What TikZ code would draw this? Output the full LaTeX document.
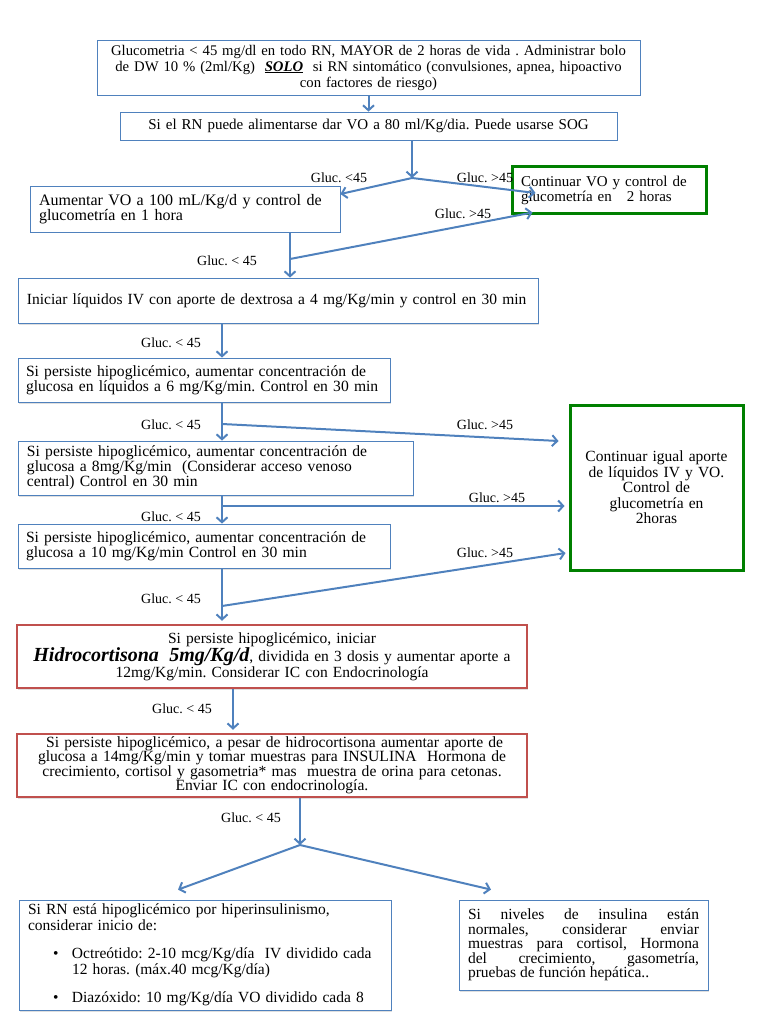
\documentclass[tikz,border=0pt]{standalone}
\usepackage{fontspec}
\setmainfont{Liberation Serif}
\usepackage{tikz}
\usetikzlibrary{arrows.meta,shadows}
\definecolor{azul}{RGB}{79,129,189}
\definecolor{verde}{RGB}{0,128,0}
\definecolor{rojo}{RGB}{192,80,77}
\frenchspacing
\tikzset{
  caja/.style={draw=azul, line width=0.8pt, fill=white, inner xsep=9pt, inner ysep=0pt,
    font=\fontsize{15.5}{15.5}\selectfont,
    drop shadow={shadow xshift=1pt, shadow yshift=-1.5pt, opacity=0.25}},
  cajaverde/.style={caja, draw=verde, line width=3pt},
  cajaroja/.style={caja, draw=rojo, line width=2.5pt},
  flecha/.style={azul, line width=2pt, -{Straight Barb[length=5pt,width=11pt]}},
  gluc/.style={font=\fontsize{14}{16}\selectfont, inner sep=0pt},
}
\newcommand{\gluc}[3]{\node [gluc] (#1) at #2 {Gluc. #3}}

\begin{document}
\begin{tikzpicture}[x=1pt,y=-1pt]
    \useasboundingbox (0,0) rectangle (768,1024);

    % arriba
    \node [caja, font=\fontsize{14.7}{16}\selectfont, text width=525pt, minimum height=55pt, align=center] (inicio) at (368.5,67.5)
      {Glucometria < 45 mg/dl en todo RN, MAYOR de 2 horas de vida . Administrar bolo\\
       de DW 10 \% (2ml/Kg)~ \underline{\textbf{\textit{SOLO}}}~ si RN sintomático (convulsiones, apnea, hipoactivo\\
       con factores de riesgo)};
    \node [caja, font=\fontsize{15}{16}\selectfont, text width=479pt, minimum height=28pt, align=center] (vo80) at (368.5,126)
      {Si el RN puede alimentarse dar VO a 80 ml/Kg/dia. Puede usarse SOG};
    \node [cajaverde, font=\fontsize{15}{14.5}\selectfont, text width=176pt, minimum height=47pt, align=left] (cvo) at (609,190.5)
      {Continuar VO y control de\\ glucometría en~~ 2 horas};
    \node [caja, font=\fontsize{16}{15}\selectfont, text width=292pt, minimum height=46pt, align=left] (avo) at (185,209)
      {Aumentar VO a 100 mL/Kg/d y control de\\ glucometría en 1 hora};

    % liquidos IV
    \node [caja, text width=502pt, minimum height=45pt, align=left] (liq4) at (278,300.5)
      {Iniciar líquidos IV con aporte de dextrosa a 4 mg/Kg/min y control en 30 min};
    \node [caja, font=\fontsize{15.6}{15.2}\selectfont, text width=356pt, inner xsep=8pt, minimum height=44pt, align=left] (liq6) at (204,380)
      {Si persiste hipoglicémico, aumentar concentración de\\ glucosa en líquidos a 6 mg/Kg/min. Control en 30 min};
    \node [caja, font=\fontsize{15.6}{15.2}\selectfont, text width=377pt, minimum height=54pt, align=left] (liq8) at (215.5,468)
      {Si persiste hipoglicémico, aumentar concentración de\\ glucosa a 8mg/Kg/min~ (Considerar acceso venoso\\ central) Control en 30 min};
    \node [caja, font=\fontsize{15.6}{15.2}\selectfont, text width=356pt, inner xsep=8pt, minimum height=44pt, align=left] (liq10) at (204,546)
      {Si persiste hipoglicémico, aumentar concentración de\\ glucosa a 10 mg/Kg/min Control en 30 min};
    \node [cajaverde, text width=155pt, minimum height=165pt, align=center] (cig) at (656.5,487.5)
      {Continuar igual aporte\\ de líquidos IV y VO.\\ Control de\\ glucometría en\\ 2horas};

    % hidrocortisona
    \node [cajaroja, text width=492pt, minimum height=63pt, align=center] (hidro) at (272,656.5)
      {Si persiste hipoglicémico, iniciar\\
       {\fontsize{20}{19}\selectfont\bfseries\itshape Hidrocortisona~~5mg/Kg/d}, dividida en 3 dosis y aumentar aporte a\\
       12mg/Kg/min. Considerar IC con Endocrinología};
    \node [cajaroja, font=\fontsize{15.6}{14.5}\selectfont, text width=492pt, minimum height=63pt, align=center] (ins) at (272,765.5)
      {~Si persiste hipoglicémico, a pesar de hidrocortisona aumentar aporte de\\
       glucosa a 14mg/Kg/min y tomar muestras para INSULINA~ Hormona de\\
       crecimiento, cortisol y gasometria* mas~ muestra de orina para cetonas.\\
       Enviar IC con endocrinología.};

    % abajo
    \node [caja, text width=354pt, minimum height=110pt, align=left] (hiper) at (205,955)
      {Si RN está hipoglicémico por hiperinsulinismo,\\ considerar inicio de:\\[13pt]
       \hspace*{25pt}\makebox[19pt][l]{\textbullet}Octreótido: 2-10 mcg/Kg/día~ IV dividido cada\\
       \hspace*{44pt}12 horas. (máx.40 mcg/Kg/día)\\[13pt]
       \hspace*{25pt}\makebox[19pt][l]{\textbullet}Diazóxido: 10 mg/Kg/día VO dividido cada 8};
    \node [caja, font=\fontsize{15.5}{14.6}\selectfont, text width=231pt, minimum height=90pt, align=justify] (normal) at (583.5,945)
      {Si niveles de insulina están\linebreak normales, considerar enviar\linebreak
       muestras para cortisol, Hormona\linebreak del crecimiento, gasometría,\linebreak
       pruebas de función hepática..};

    % bifurcaciones
    \coordinate (b1) at (412,178);
    \coordinate (b2) at (290,259);
    \coordinate (b3) at (222,424);
    \coordinate (b4) at (222,506);
    \coordinate (b5) at (222,606);
    \coordinate (b6) at (300,845);

    \draw [flecha] (inicio) -- (vo80);
    \draw [flecha] (vo80.south -| b1) -- (b1);
    \draw [flecha] (b1) -- ([yshift=15pt]avo.east);
    \draw [flecha] (b1) -- ([xshift=25pt,yshift=-2.5pt]cvo.west);
    \draw [flecha] (avo.south -| b2) -- (liq4.north -| b2);
    \draw [flecha] (b2) -- ([xshift=22pt,yshift=-22pt]cvo.west);

    \draw [flecha] (liq4.south -| b3) -- (liq6.north -| b3);
    \draw [flecha] (liq6.south -| b3) -- (liq8.north -| b3);
    \draw [flecha] (b3) -- ([xshift=-10pt,yshift=46.5pt]cig.west);
    \draw [flecha] (liq8.south -| b4) -- (liq10.north -| b4);
    \draw [flecha] (b4) -- ([xshift=-4pt]cig.west |- b4);
    \draw [flecha] (liq10.south -| b5) -- ([yshift=3pt]hidro.north -| b5);
    \draw [flecha] (b5) -- ([xshift=-3pt,yshift=-65.5pt]cig.west);

    \draw [flecha] ([xshift=-39pt]hidro.south) -- ([xshift=-39pt,yshift=3pt]ins.north);
    \draw [flecha] (ins.south -| b6) -- (b6);
    \draw [flecha] (b6) -- ([xshift=-27pt,yshift=10pt]hiper.north);
    \draw [flecha] (b6) -- ([xshift=-92.5pt,yshift=10pt]normal.north);

    % etiquetas
    \gluc{g1}{(339,178)}{<45};
    \gluc{g2}{(485,178)}{>45};
    \gluc{g3}{(463,214)}{>45};
    \gluc{g4}{(227,261)}{< 45};
    \gluc{g5}{(171,343)}{< 45};
    \gluc{g6}{(171,425)}{< 45};
    \gluc{g7}{(485,425)}{>45};
    \gluc{g8}{(497,498)}{>45};
    \gluc{g9}{(171,517)}{< 45};
    \gluc{g10}{(485,553)}{>45};
    \gluc{g11}{(171,599)}{< 45};
    \gluc{g12}{(182,709)}{< 45};
    \gluc{g13}{(251,818)}{< 45};
\end{tikzpicture}
\end{document}
